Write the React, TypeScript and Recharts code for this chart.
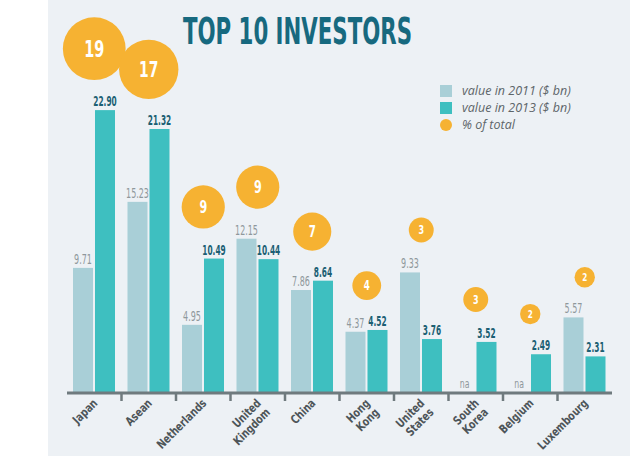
import React from 'react';
import { ComposedChart, Bar, Scatter, XAxis, YAxis, LabelList, Legend } from 'recharts';

// ---- data ----
const categories = [
  'Japan',
  'Asean',
  'Netherlands',
  'United Kingdom',
  'China',
  'Hong Kong',
  'United States',
  'South Korea',
  'Belgium',
  'Luxembourg',
];
const value2011: (number | null)[] = [9.71, 15.23, 4.95, 12.15, 7.86, 4.37, 9.33, null, null, 5.57];
const value2013 = [22.9, 21.32, 10.49, 10.44, 8.64, 4.52, 3.76, 3.52, 2.49, 2.31];
const shareOfTotal = [19, 17, 9, 9, 7, 4, 3, 3, 2, 2];
const legendLabels = ['value in 2011 ($ bn)', 'value in 2013 ($ bn)', '% of total'];
const titleText = 'TOP 10 INVESTORS';

// ---- look ----
const C = {
  v2011: '#a9cfd7',
  v2013: '#3ebfc0',
  share: '#f6b232',
  title: '#17697f',
  label2013: '#1b5f73',
  label2011: '#8f989c',
  axis: '#6f7a7e',
  cat: '#4d5559',
  legend: '#5d6569',
  panel: '#edf1f5',
};
const NARROW = "'Liberation Sans Narrow', 'DejaVu Sans Condensed', 'Arial Narrow', sans-serif";
const W = 630;
const H = 459;
const MARGIN = { top: 85, right: 18, bottom: 0, left: 67 };
const XAXIS_H = 66;
const PLOT_BOTTOM = H - MARGIN.bottom - XAXIS_H;
const PLOT_W = W - MARGIN.left - MARGIN.right;
const CAT_GAP = 0.11;
const BAR_GAP = 2;

const data = categories.map((name, i) => ({
  name,
  v2011: value2011[i],
  v2013: value2013[i],
  share: shareOfTotal[i],
  peak: Math.max(value2011[i] ?? 0, value2013[i]),
}));

// bars are run down to the axis line
function barShape(key: 'v2011' | 'v2013', fill: string) {
  return (p: any) => {
    const v = p && p.payload ? p.payload[key] : null;
    if (v == null || !Number.isFinite(p.y)) return <g />;
    return <rect x={p.x} y={p.y} width={p.width} height={Math.max(0, PLOT_BOTTOM - p.y)} fill={fill} />;
  };
}

// tall, horizontally squeezed value labels
function valueLabel(color: string, weight: number, squeeze: number) {
  return (p: any) => {
    const { x, y, width, value } = p;
    if (value == null || !Number.isFinite(Number(y))) return null;
    const s = Number(value).toFixed(2);
    const tx = Number(x) + Number(width) / 2;
    const ty = Number(y) - 4;
    return (
      <text
        transform={`translate(${tx},${ty}) scale(${squeeze},1)`}
        textAnchor="middle"
        fill={color}
        fontFamily={NARROW}
        fontWeight={weight}
        fontSize={13.5}
      >
        {s}
      </text>
    );
  };
}

// share-of-total bubble floating above the taller bar of each pair
const Bubble = (p: any) => {
  const { cx, cy, payload } = p;
  if (!payload || !Number.isFinite(cx) || !Number.isFinite(cy)) return <g />;
  const r = 7.2 * Math.sqrt(payload.share);
  const c = cy - 30 - r;
  const fs = 6 + 0.52 * r;
  const s = String(payload.share);
  return (
    <g>
      <circle cx={cx} cy={c} r={r} fill={C.share} />
      <text
        transform={`translate(${cx},${c + fs * 0.36}) scale(0.72,1)`}
        textAnchor="middle"
        fill="#ffffff"
        fontFamily={NARROW}
        fontWeight={700}
        fontSize={fs}
      >
        {s}
      </text>
    </g>
  );
};

const CategoryTick = (p: any) => {
  const { x, payload } = p;
  const i = categories.indexOf(payload.value);
  const band = payload && payload.offset ? payload.offset * 2 : PLOT_W / categories.length;
  const barW = (band * (1 - 2 * CAT_GAP) - BAR_GAP) / 2;
  const lines = String(payload.value).split(' ');
  const edge = x + band / 2;
  return (
    <g>
      {i < categories.length - 1 && (
        <line x1={edge} x2={edge} y1={PLOT_BOTTOM + 1} y2={PLOT_BOTTOM + 8} stroke={C.axis} strokeWidth={2.5} />
      )}
      <text
        transform={`translate(${x + 4},${PLOT_BOTTOM + 11}) rotate(-45) scale(0.86,1)`}
        textAnchor="end"
        fill={C.cat}
        fontFamily={NARROW}
        fontWeight={700}
        fontSize={12}
      >
        {lines.map((l, k) => (
          <tspan key={k} x={0} dy={k === 0 ? 0 : 13}>
            {l}
          </tspan>
        ))}
      </text>
      {i >= 0 && value2011[i] == null && (
        <text
          transform={`translate(${x - (barW + BAR_GAP) / 2},${PLOT_BOTTOM - 5}) scale(0.72,1)`}
          textAnchor="middle"
          fill={C.label2011}
          fontFamily={NARROW}
          fontSize={12}
        >
          na
        </text>
      )}
    </g>
  );
};

const LegendBox = () => (
  <div style={{ fontFamily: "'Open Sans', sans-serif", fontStyle: 'italic', fontSize: 12.5, color: C.legend }}>
    {legendLabels.map((label, k) => (
      <div key={k} style={{ display: 'flex', alignItems: 'center', height: 17 }}>
        <span
          style={{
            display: 'inline-block',
            width: 12,
            height: 12,
            marginRight: 10,
            background: k === 0 ? C.v2011 : k === 1 ? C.v2013 : C.share,
            borderRadius: k === 2 ? '50%' : 0,
          }}
        />
        <span>{label}</span>
      </div>
    ))}
  </div>
);

export default function App() {
  return (
    <div style={{ position: 'absolute', left: 0, top: 0, width: W, height: H, background: '#ffffff', overflow: 'hidden' }}>
      <div style={{ position: 'absolute', left: 48, top: 0, width: W - 48, height: 456, background: C.panel }} />
      <svg style={{ position: 'absolute', left: 0, top: 0 }} width={W} height={60}>
        <text
          x={183}
          y={44}
          textLength={229}
          lengthAdjust="spacingAndGlyphs"
          fill={C.title}
          fontFamily={NARROW}
          fontWeight={700}
          fontSize={37}
        >
          {titleText}
        </text>
      </svg>
      <div style={{ position: 'absolute', left: 0, top: 0 }}>
        <ComposedChart
          width={W}
          height={H}
          data={data}
          margin={MARGIN}
          barCategoryGap={`${CAT_GAP * 100}%`}
          barGap={BAR_GAP}
        >
          <XAxis
            dataKey="name"
            height={XAXIS_H}
            interval={0}
            tickLine={false}
            tickSize={0}
            tickMargin={0}
            axisLine={{ stroke: C.axis, strokeWidth: 3 }}
            tick={<CategoryTick />}
          />
          <YAxis hide domain={[-0.75, 25]} />
          <Legend
            layout="vertical"
            align="center"
            verticalAlign="middle"
            wrapperStyle={{ left: 440, top: 82, width: 185 }}
            content={<LegendBox />}
          />
          <Bar dataKey="v2011" fill={C.v2011} shape={barShape('v2011', C.v2011)} isAnimationActive={false}>
            <LabelList dataKey="v2011" content={valueLabel(C.label2011, 400, 0.66)} />
          </Bar>
          <Bar dataKey="v2013" fill={C.v2013} shape={barShape('v2013', C.v2013)} isAnimationActive={false}>
            <LabelList dataKey="v2013" content={valueLabel(C.label2013, 700, 0.61)} />
          </Bar>
          <Scatter dataKey="peak" shape={Bubble} isAnimationActive={false} legendType="none" />
        </ComposedChart>
      </div>
    </div>
  );
}
